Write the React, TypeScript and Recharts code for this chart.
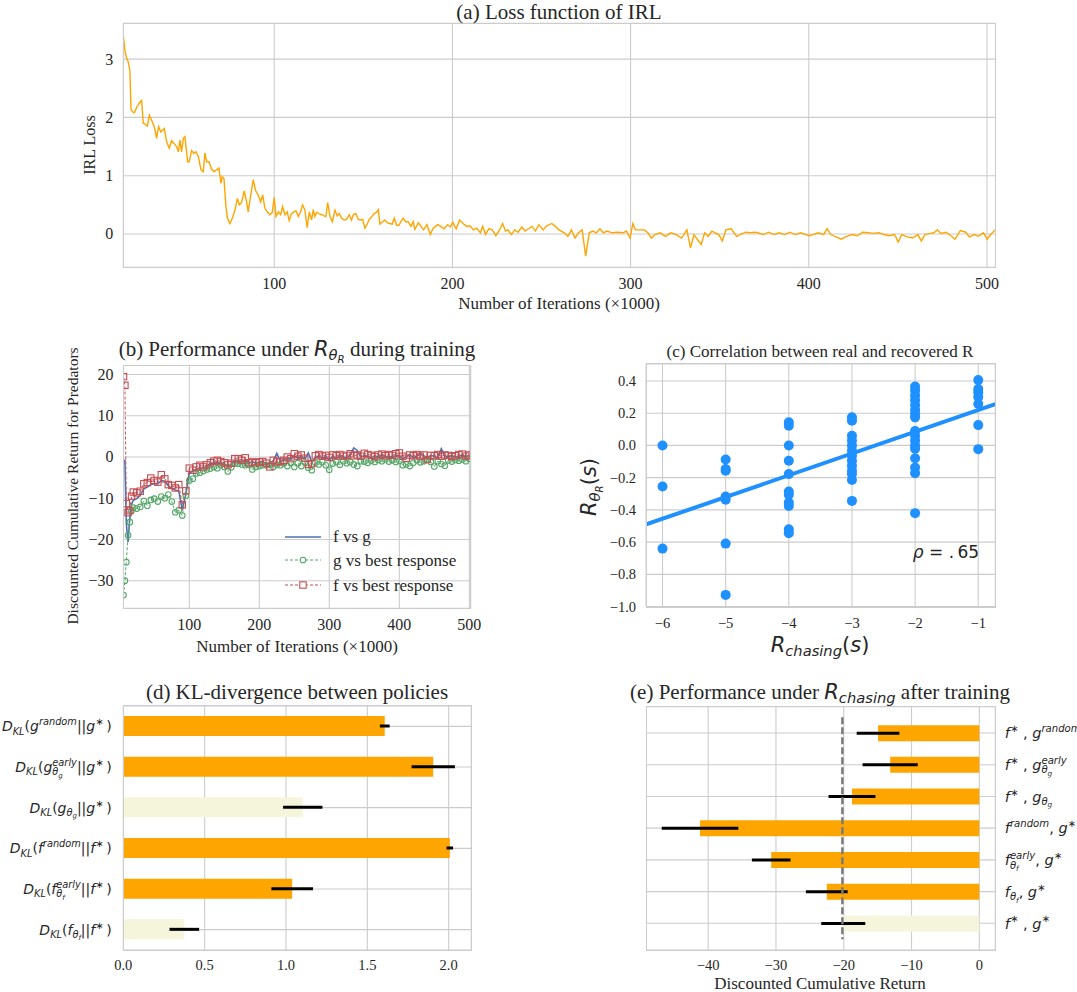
import React from "react";
import {
  Bar,
  BarChart,
  CartesianGrid,
  Cell,
  ErrorBar,
  Line,
  LineChart,
  ReferenceLine,
  Scatter,
  ScatterChart,
  XAxis,
  YAxis,
} from "recharts";

// Five-panel IRL figure: loss curve, training returns, reward correlation,
// KL divergences and final returns.

const SERIF = '"Liberation Serif", "Times New Roman", serif';
const MATH = '"DejaVu Sans", sans-serif';
const INK = "#262626";
const GRID = "#cccccc";
const ORANGE = "#ffa500";
const BEIGE = "#f5f5dc";
const BLUE = "#4c72b0";
const GREEN = "#55a868";
const RED = "#c44e52";
const DODGER = "#1e90ff";

// ---------- (a) loss function of IRL ----------
const lossIter = [
  15.3, 16.2, 17.2, 18.1, 19.0, 19.6, 20.3, 21.5, 22.8, 24.1, 25.6, 26.5, 27.4, 28.8, 29.9,
  31.2, 32.7, 34.0, 35.1, 36.4, 38.3, 39.6, 41.1, 42.4, 43.9, 45.2, 46.2, 47.1, 48.0, 49.0,
  49.9, 51.4, 52.3, 53.6, 54.9, 56.1, 57.4, 58.9, 60.2, 61.1, 62.1, 63.4, 64.9, 66.2, 67.7,
  69.0, 70.1, 70.8, 71.8, 72.9, 73.8, 75.1, 76.5, 78.0, 79.3, 80.4, 81.7, 83.2, 84.5, 85.4,
  86.4, 88.2, 89.5, 91.0, 92.4, 93.5, 94.8, 96.1, 97.6, 98.9, 100.0, 101.0, 102.3, 103.6, 104.7,
  106.0, 107.3, 108.4, 109.7, 111.1, 112.2, 113.5, 114.8, 115.9, 117.2, 118.5, 119.7, 121.0, 121.9, 122.8,
  123.8, 125.1, 126.6, 127.9, 129.0, 130.0, 131.3, 132.6, 134.1, 135.4, 136.5, 137.8, 139.3, 140.6, 142.1,
  143.4, 144.4, 145.7, 147.2, 148.5, 149.6, 150.9, 152.2, 153.3, 154.6, 156.1, 157.4, 158.4, 159.3, 160.8,
  162.1, 163.6, 164.9, 166.2, 167.4, 168.7, 170.0, 171.1, 172.4, 173.7, 175.2, 176.7, 178.0, 178.9, 180.9,
  183.8, 185.7, 187.6, 189.2, 190.5, 191.9, 193.4, 195.4, 197.3, 198.9, 200.2, 202.1, 204.1, 206.0, 208.0,
  209.9, 211.8, 213.7, 215.7, 217.0, 218.6, 220.5, 222.4, 224.4, 226.3, 228.2, 229.8, 231.1, 233.1, 235.0,
  236.9, 238.9, 240.8, 242.7, 244.7, 246.6, 248.5, 250.9, 252.9, 255.8, 257.8, 259.8, 262.8, 264.8, 266.8,
  268.8, 270.8, 272.8, 274.8, 276.8, 278.8, 280.8, 282.8, 284.7, 286.7, 289.7, 292.7, 295.7, 297.7, 299.7,
  301.3, 302.7, 304.7, 307.7, 309.7, 311.7, 313.7, 316.6, 319.6, 322.6, 325.6, 328.6, 331.6, 333.6, 335.6,
  337.6, 339.6, 341.6, 343.6, 345.6, 347.5, 349.5, 351.5, 353.5, 356.5, 359.5, 361.5, 364.5, 367.5, 369.5,
  371.5, 374.5, 377.5, 380.4, 383.4, 386.4, 389.4, 392.4, 395.4, 398.4, 400.4, 402.4, 405.4, 408.4, 410.3,
  412.3, 415.3, 418.3, 421.3, 424.3, 427.3, 430.3, 433.3, 436.3, 439.3, 442.3, 445.2, 448.2, 450.2, 452.2,
  455.2, 458.2, 461.2, 463.2, 465.2, 468.2, 470.2, 472.2, 474.1, 477.1, 480.1, 482.1, 485.1, 488.1, 490.1,
  493.1, 495.1, 498.1, 500.1, 502.1, 504.6,
];
const lossValue = [
  3.41, 3.15, 3.01, 2.95, 2.81, 2.15, 2.1, 2.08, 2.17, 2.24, 2.29, 1.9, 1.89, 1.85, 2.04,
  1.95, 1.84, 1.64, 1.84, 1.75, 1.81, 1.58, 1.47, 1.6, 1.55, 1.5, 1.41, 1.61, 1.41, 1.64,
  1.67, 1.24, 1.24, 1.43, 1.38, 1.41, 1.33, 1.1, 1.07, 1.39, 1.24, 1.24, 1.11, 1.07, 1.1,
  1.13, 0.87, 0.98, 0.95, 0.47, 0.27, 0.18, 0.27, 0.41, 0.61, 0.5, 0.54, 0.74, 0.55, 0.38,
  0.58, 0.93, 0.75, 0.67, 0.55, 0.67, 0.44, 0.38, 0.33, 0.37, 0.63, 0.3, 0.38, 0.33, 0.47,
  0.33, 0.38, 0.23, 0.35, 0.38, 0.4, 0.3, 0.38, 0.5, 0.41, 0.11, 0.38, 0.24, 0.42, 0.3,
  0.37, 0.35, 0.33, 0.31, 0.3, 0.54, 0.3, 0.21, 0.41, 0.31, 0.35, 0.27, 0.24, 0.25, 0.33,
  0.24, 0.33, 0.35, 0.25, 0.24, 0.25, 0.1, 0.17, 0.25, 0.29, 0.35, 0.37, 0.42, 0.17, 0.21,
  0.24, 0.19, 0.18, 0.17, 0.27, 0.15, 0.15, 0.21, 0.27, 0.21, 0.21, 0.13, 0.21, 0.08, 0.19,
  0.07, 0.16, -0.01, 0.1, 0.13, 0.16, 0.13, 0.09, 0.16, 0.12, 0.2, 0.09, 0.24, 0.18, 0.13,
  0.14, 0.07, 0.1, 0.02, 0.13, -0.01, 0.09, 0.07, -0.03, 0.06, 0.18, 0.05, 0.07, -0.01, 0.07,
  0.03, 0.12, 0.05, 0.09, 0.13, 0.05, 0.16, 0.07, 0.14, 0.18, 0.13, 0.07, 0.02, -0.04, 0.07,
  -0.07, 0.02, 0.07, -0.38, 0.02, 0.05, 0.02, 0.09, 0.02, 0.05, 0.02, 0.03, 0.02, 0.05, -0.07,
  0.18, 0.07, 0.07, 0.07, 0.02, -0.07, -0.01, 0.02, -0.04, 0.02, -0.01, -0.07, 0.07, -0.24, -0.01,
  -0.1, -0.18, 0.02, -0.04, 0.05, 0.02, -0.01, -0.12, 0.07, 0.09, -0.04, -0.01, 0.03, 0.02, 0.03,
  0.02, -0.01, 0.03, -0.01, 0.02, -0.01, 0.03, -0.01, 0.02, -0.01, -0.03, -0.01, 0.02, -0.01, 0.09,
  -0.01, -0.05, -0.09, -0.04, -0.01, -0.03, 0.03, 0.02, 0.01, 0.02, -0.01, -0.03, -0.01, -0.14, -0.01,
  -0.05, -0.07, -0.01, -0.12, -0.01, 0.01, 0.02, 0.07, 0.01, 0.03, -0.04, -0.09, 0.06, 0.03, -0.05,
  -0.01, -0.04, 0.02, -0.09, -0.01, 0.07,
];

// ---------- (b) performance during training ----------
const perfIter = [6, 8, 10, 12.5, 15, 17.5, ...Array.from({ length: 97 }, (_, i) => 20 + 5 * i)];
const fVsG = [
  -1, -0.8, -16, -20.6, -14.5, -11.5,
  -10.5, -10.1, -9.2, -7.7, -7.3, -6.7, -6.4, -6.5, -5.7, -5.9,
  -7.0, -7.6, -8.0, -8.3, -12.9, -9.0, -3.8, -3.5, -3.0, -2.6,
  -2.8, -2.2, -1.6, -1.4, -1.2, -1.5, -1.8, -2.3, -1.9, -0.9,
  -0.8, -1.2, -0.6, -1.6, -1.0, -1.6, -1.3, -1.0, -1.8, -1.5,
  -0.9, 0.9, -1.0, -0.6, -0.3, -0.6, 0.3,
  -0.3, 0.2, -0.6, 1.0, -1.2, -0.2, 0.3, -0.4, 0.1, -0.8,
  0.2, -0.3, 0.4, 0.0, -0.2, 0.6, 2.2, 1.6, -0.1, 0.4,
  0.1, -0.2, 0.3, 0.0, 0.5, -0.1, 0.2, 0.0, 0.4, 0.3,
  -0.4, 0.1, 0.6, -0.2, 0.2, 1.0, 0.0, -0.3, 0.4, 0.1,
  -0.2, 2.0, 0.3, 0.0, 0.4, -0.1, 0.2, 0.5, 0.0, 0.3,
];
const gVsBest = [
  -33.5, -30, -25.5, -19, -15.8, -13,
  -12.3, -12.5, -12.1, -10.7, -11.8, -10.4, -10.1, -10.8, -9.6, -10.0,
  -9.1, -10.8, -13.4, -12.9, -14.2, -9.4, -5.7, -5.3, -4.0, -3.8,
  -3.4, -3.0, -2.8, -2.4, -2.7, -2.0, -2.4, -3.5, -2.5, -1.6,
  -1.6, -1.8, -2.0, -1.9, -3.0, -2.4, -2.2, -2.0, -2.0, -1.9,
  -2.4, -1.9, -2.0, -1.6, -2.2, -1.4, -2.4,
  -1.5, -2.2, -1.3, -2.6, -3.2, -1.4, -1.8, -1.2, -2.0, -3.1,
  -1.6, -1.2, -1.9, -1.0, -1.5, -1.2, -1.8, -2.2, -1.0, -1.1,
  -1.4, -0.9, -1.2, -0.7, -1.0, -0.6, -1.1, -0.8, -1.2, -0.9,
  -2.0, -1.8, -2.2, -1.4, -0.8, -1.3, -1.0, -0.6, -1.2, -2.3,
  -1.0, -1.7, -2.1, -0.8, -1.1, -0.7, -0.9, -0.6, -1.0, -0.4,
];
const fVsBest = [
  19.5, 17.4, -11.3, -13.5, -13.0, -9.5,
  -8.5, -8.7, -8.3, -6.5, -6.2, -5.1, -5.7, -6.1, -4.3, -5.3,
  -6.7, -6.9, -7.5, -6.7, -11.6, -8.2, -2.7, -3.2, -2.4, -2.0,
  -2.4, -1.9, -1.4, -1.0, -0.8, -1.1, -1.4, -1.9, -1.5, -0.4,
  -0.4, -0.8, -0.2, -1.4, -1.2, -1.4, -1.2, -1.1, -1.5, -2.4,
  -0.8, -1.2, -1.1, -0.8, 0.0, -0.4, 0.8,
  0.2, 0.5, -0.3, -1.8, -1.6, 0.3, 0.6, 0.2, 0.4, -0.1,
  0.5, 0.3, 0.6, 0.2, 0.4, 0.8, 0.3, 0.5, 0.2, 0.9,
  0.6, 0.4, 0.1, 0.5, 0.7, 0.3, 0.6, 0.4, 0.8, 1.0,
  0.2, -0.3, 0.5, 0.3, 0.6, 0.2, 0.5, -0.6, 0.4, 0.3,
  0.6, 0.2, 0.5, 0.4, 0.1, 0.3, 0.6, 0.7, 0.2, 0.5,
];
const perfLegend = ["f vs g", "g vs best response", "f vs best response"];

// ---------- (c) real vs recovered reward ----------
const chasingReward = [-6, -5, -4, -3, -2, -1];
const recoveredReward = [
  [0.0, -0.255, -0.64],
  [-0.087, -0.147, -0.157, -0.317, -0.337, -0.609, -0.927],
  [0.143, 0.122, 0.0, -0.095, -0.178, -0.286, -0.306, -0.354, -0.375, -0.52, -0.544],
  [0.174, 0.153, 0.06, 0.03, 0.0, -0.033, -0.064, -0.095, -0.126, -0.158, -0.178, -0.215, -0.344],
  [0.365, 0.34, 0.31, 0.28, 0.25, 0.22, 0.195, 0.174, 0.09, 0.06, 0.03, 0.0, -0.02, -0.08, -0.137, -0.172, -0.42],
  [0.405, 0.35, 0.33, 0.3, 0.257, 0.126, -0.023],
];
const fitX = [-6.26, -0.73];
const fitY = [-0.49, 0.256];

// ---------- (d) KL divergence between policies ----------
const klNames = ["DKL(g_random||g*)", "DKL(g_early||g*)", "DKL(g_θg||g*)", "DKL(f_random||f*)", "DKL(f_early||f*)", "DKL(f_θf||f*)"];
const klMean = [1.607, 1.905, 1.103, 2.007, 1.038, 0.375];
const klErr = [0.03, 0.133, 0.121, 0.02, 0.128, 0.091];
const klLearned = [false, false, true, false, false, true];

// ---------- (e) performance after training ----------
const retNames = ["f*, g_random", "f*, g_early", "f*, g_θg", "f_random, g*", "f_early, g*", "f_θf, g*", "f*, g*"];
const retMean = [-14.94, -13.15, -18.78, -41.2, -30.7, -22.5, -20.07];
const retErr = [3.15, 4.07, 3.46, 5.65, 2.85, 3.08, 3.25];
const retExpert = [false, false, false, false, false, false, true];
const expertReturn = -20.2;

// ---------- mathtext-like tick labels ----------
type Part = { t: string; lvl: number; stack?: boolean; up?: boolean };
const P = (t: string, lvl = 0, opt: { stack?: boolean; up?: boolean } = {}): Part => ({ t, lvl, ...opt });
const UP = { up: true };
const DKL = [P("D"), P("KL", -1)];
const CLOSE = P("\u2009)", 0, UP);

const klParts: Part[][] = [
  [...DKL, P("(", 0, UP), P("g"), P("random", 1), P("||", 0, UP), P("g"), P("∗", 1, UP), CLOSE],
  [...DKL, P("(", 0, UP), P("g"), P("early", 1), P("θ", -1, { stack: true }), P("g", -2), P("||", 0, UP), P("g"), P("∗", 1, UP), CLOSE],
  [...DKL, P("(", 0, UP), P("g"), P("θ", -1), P("g", -2), P("||", 0, UP), P("g"), P("∗", 1, UP), CLOSE],
  [...DKL, P("(", 0, UP), P("f"), P("random", 1), P("||", 0, UP), P("f"), P("∗", 1, UP), CLOSE],
  [...DKL, P("(", 0, UP), P("f"), P("early", 1), P("θ", -1, { stack: true }), P("f", -2), P("||", 0, UP), P("f"), P("∗", 1, UP), CLOSE],
  [...DKL, P("(", 0, UP), P("f"), P("θ", -1), P("f", -2), P("||", 0, UP), P("f"), P("∗", 1, UP), CLOSE],
];
const retParts: Part[][] = [
  [P("f"), P("∗", 1, UP), P(" , ", 0, UP), P("g"), P("random", 1)],
  [P("f"), P("∗", 1, UP), P(" , ", 0, UP), P("g"), P("early", 1), P("θ", -1, { stack: true }), P("g", -2)],
  [P("f"), P("∗", 1, UP), P(" , ", 0, UP), P("g"), P("θ", -1), P("g", -2)],
  [P("f"), P("random", 1), P(", ", 0, UP), P("g"), P("∗", 1, UP)],
  [P("f"), P("early", 1), P("θ", -1, { stack: true }), P("f", -2), P(", ", 0, UP), P("g"), P("∗", 1, UP)],
  [P("f"), P("θ", -1), P("f", -2), P(", ", 0, UP), P("g"), P("∗", 1, UP)],
  [P("f"), P("∗", 1, UP), P(" , ", 0, UP), P("g"), P("∗", 1, UP)],
];

const LEVEL_SIZE: Record<number, number> = { 0: 1, 1: 0.7, [-1]: 0.7, [-2]: 0.5 };
const LEVEL_SHIFT: Record<number, number> = { 0: 0, 1: -0.42, [-1]: 0.24, [-2]: 0.4 };

let measureCtx: CanvasRenderingContext2D | null = null;
function textWidth(t: string, size: number, italic: boolean) {
  if (!measureCtx) measureCtx = document.createElement("canvas").getContext("2d");
  if (!measureCtx) return t.length * size * 0.6;
  measureCtx.font = `${italic ? "italic " : ""}${size}px "DejaVu Sans"`;
  return measureCtx.measureText(t).width;
}

function layoutMath(parts: Part[], fs: number) {
  let x = 0;
  let supStart = 0;
  let supEnd = 0;
  let width = 0;
  const items: (Part & { x: number; size: number; dy: number })[] = [];
  for (const p of parts) {
    const size = fs * LEVEL_SIZE[p.lvl];
    if (p.stack) x = supStart;
    if (p.lvl === 0) x = Math.max(x, supEnd);
    if (p.lvl === 1) supStart = x;
    items.push({ ...p, x, size, dy: fs * LEVEL_SHIFT[p.lvl] });
    x += textWidth(p.t, size, !p.up);
    if (p.lvl === 1) supEnd = x;
    width = Math.max(width, x);
  }
  return { items, width };
}

function MathTick(props: any) {
  const { x, y, payload, names, parts, fs, anchor } = props;
  const idx = names.indexOf(payload.value);
  if (idx < 0) return null;
  const lay = layoutMath(parts[idx], fs);
  const x0 = anchor === "end" ? x - lay.width : x;
  return (
    <text fill={INK} style={{ fontFamily: MATH }}>
      {lay.items.map((it, i) => (
        <tspan key={i} x={x0 + it.x} y={y + 0.36 * fs + it.dy} fontSize={it.size} fontStyle={it.up ? "normal" : "italic"}>
          {it.t}
        </tspan>
      ))}
    </text>
  );
}

// serif numeric tick; side tells where the label sits relative to the axis
function NumTick(props: any) {
  const { x, y, payload, fs, side, fmt } = props;
  const label = fmt ? fmt(payload.value) : String(payload.value);
  const dy = side === "bottom" ? 0.71 * fs : 0.34 * fs;
  return (
    <text x={x} y={y + dy} textAnchor={side === "bottom" ? "middle" : "end"} fill={INK} fontSize={fs} style={{ fontFamily: SERIF }}>
      {label}
    </text>
  );
}

// ---------- layout helpers ----------
type Rect = { l: number; t: number; r: number; b: number };
type Box = { x: number; y: number; w: number; h: number };

const plotA: Rect = { l: 123.3, t: 23.3, r: 995.5, b: 267.3 };
const plotB: Rect = { l: 123.5, t: 365.5, r: 470.7, b: 608.3 };
const plotC: Rect = { l: 646.1, t: 364, r: 995.3, b: 607.3 };
const plotD: Rect = { l: 123.3, t: 706, r: 471.3, b: 950 };
const plotE: Rect = { l: 646.5, t: 706.7, r: 995.3, b: 950 };

const boxA: Box = { x: 0, y: 0, w: 1077, h: 320 };
const boxB: Box = { x: 0, y: 330, w: 520, h: 320 };
const boxC: Box = { x: 520, y: 330, w: 557, h: 330 };
const boxD: Box = { x: 0, y: 670, w: 520, h: 322 };
const boxE: Box = { x: 520, y: 670, w: 557, h: 322 };

function marginsFor(box: Box, plot: Rect, yw: number, xh: number, yRight = false) {
  return {
    top: plot.t - box.y,
    left: plot.l - box.x - (yRight ? 0 : yw),
    right: box.x + box.w - plot.r - (yRight ? yw : 0),
    bottom: box.y + box.h - plot.b - xh,
  };
}

const minus = (s: string) => s.replace("-", "\u2212");
const fmtInt = (v: number) => minus(String(v));
const fmt1 = (v: number) => minus(v.toFixed(1));

function Frame({ p }: { p: Rect }) {
  return (
    <div
      style={{
        position: "absolute",
        left: p.l - 0.6,
        top: p.t - 0.6,
        width: p.r - p.l + 1.2,
        height: p.b - p.t + 1.2,
        border: `1.2px solid ${GRID}`,
        boxSizing: "border-box",
        pointerEvents: "none",
      }}
    />
  );
}

function Txt(props: { x: number; y: number; size: number; rotate?: boolean; family?: string; children: React.ReactNode }) {
  const { x, y, size, rotate, family = SERIF, children } = props;
  return (
    <div
      style={{
        position: "absolute",
        left: x,
        top: y,
        transform: `translate(-50%, -50%)${rotate ? " rotate(-90deg)" : ""}`,
        fontFamily: family,
        fontSize: size,
        lineHeight: 1,
        whiteSpace: "nowrap",
        color: INK,
      }}
    >
      {children}
    </div>
  );
}

const subStyle: React.CSSProperties = { fontSize: "0.7em", verticalAlign: "-0.3em", lineHeight: 0 };
const mathStyle: React.CSSProperties = { fontFamily: MATH, fontStyle: "italic" };

const Place = ({ box, children }: { box: Box; children: React.ReactNode }) => (
  <div style={{ position: "absolute", left: box.x, top: box.y, width: box.w, height: box.h }}>{children}</div>
);

const axisCommon = { axisLine: false, tickLine: false, tickSize: 0, tickMargin: 10, allowDataOverflow: true };
const xTick = (fs: number, fmt?: (v: number) => string) => (p: any) => <NumTick {...p} fs={fs} side="bottom" fmt={fmt} />;
const yTick = (fs: number, fmt?: (v: number) => string) => (p: any) => <NumTick {...p} fs={fs} side="left" fmt={fmt} />;

export default function App() {
  const lossData = lossIter.map((x, i) => ({ x, loss: lossValue[i] }));
  const perfData = perfIter.map((x, i) => ({ x, fg: fVsG[i], gb: gVsBest[i], fb: fVsBest[i] }));
  const corrPoints = chasingReward.flatMap((x, i) => recoveredReward[i].map((y) => ({ x, y })));
  const klData = klNames.map((name, i) => ({ name, kl: klMean[i], err: klErr[i] }));
  const retData = retNames.map((name, i) => ({ name, ret: retMean[i], err: retErr[i] }));

  const padTop = 10.45;
  const padBottom = 10.85;

  return (
    <div style={{ position: "absolute", left: 0, top: 0, width: 1077, height: 992, background: "#fff", overflow: "hidden" }}>
      {/* (a) */}
      <Place box={boxA}>
        <LineChart width={boxA.w} height={boxA.h} data={lossData} margin={marginsFor(boxA, plotA, 60, 30)}>
          <CartesianGrid stroke={GRID} strokeWidth={1.1} />
          <XAxis dataKey="x" type="number" domain={[15.3, 504.8]} ticks={[100, 200, 300, 400, 500]} height={30} tick={xTick(16)} {...axisCommon} />
          <YAxis type="number" domain={[-0.572, 3.615]} ticks={[0, 1, 2, 3]} width={60} tick={yTick(16)} {...axisCommon} />
          <Line dataKey="loss" stroke={ORANGE} strokeWidth={1.4} dot={false} activeDot={false} isAnimationActive={false} />
        </LineChart>
      </Place>

      {/* (b) */}
      <Place box={boxB}>
        <LineChart width={boxB.w} height={boxB.h} data={perfData} margin={marginsFor(boxB, plotB, 60, 25)}>
          <CartesianGrid stroke={GRID} strokeWidth={1.1} />
          <XAxis dataKey="x" type="number" domain={[6, 502]} ticks={[100, 200, 300, 400, 500]} height={25} tick={xTick(16)} {...axisCommon} />
          <YAxis type="number" domain={[-36.7, 22.2]} ticks={[-30, -20, -10, 0, 10, 20]} width={60} tick={yTick(16, fmtInt)} {...axisCommon} />
          <Line dataKey="fg" stroke={BLUE} strokeWidth={1.6} dot={false} activeDot={false} isAnimationActive={false} />
          <Line
            dataKey="gb"
            stroke={GREEN}
            strokeWidth={1}
            strokeDasharray="3 2"
            activeDot={false}
            isAnimationActive={false}
            dot={(p: any) => <circle key={`g${p.index}`} cx={p.cx} cy={p.cy} r={2.8} fill="none" stroke={GREEN} strokeWidth={1.1} />}
          />
          <Line
            dataKey="fb"
            stroke={RED}
            strokeWidth={1}
            strokeDasharray="3 2"
            activeDot={false}
            isAnimationActive={false}
            dot={(p: any) => <rect key={`r${p.index}`} x={p.cx - 3.2} y={p.cy - 3.2} width={6.4} height={6.4} fill="none" stroke={RED} strokeWidth={1.1} />}
          />
        </LineChart>
      </Place>

      {/* (c) */}
      <Place box={boxC}>
        <ScatterChart width={boxC.w} height={boxC.h} margin={marginsFor(boxC, plotC, 60, 30)}>
          <CartesianGrid stroke={GRID} strokeWidth={1.1} />
          <XAxis dataKey="x" type="number" domain={[-6.26, -0.73]} ticks={chasingReward} height={30} tick={xTick(14.5, fmtInt)} {...axisCommon} />
          <YAxis dataKey="y" type="number" domain={[-1.004, 0.505]} ticks={[-1, -0.8, -0.6, -0.4, -0.2, 0, 0.2, 0.4]} width={60} tick={yTick(14.5, fmt1)} {...axisCommon} />
          <Scatter
            data={corrPoints}
            fill={DODGER}
            isAnimationActive={false}
            shape={(p: any) => <circle cx={p.cx} cy={p.cy} r={5} fill={DODGER} />}
          />
          <ReferenceLine
            segment={[
              { x: fitX[0], y: fitY[0] },
              { x: fitX[1], y: fitY[1] },
            ]}
            stroke={DODGER}
            strokeWidth={4}
            ifOverflow="hidden"
          />
        </ScatterChart>
      </Place>

      {/* (d) */}
      <Place box={boxD}>
        <BarChart layout="vertical" width={boxD.w} height={boxD.h} data={klData} margin={marginsFor(boxD, plotD, 115, 30)}>
          <CartesianGrid stroke={GRID} strokeWidth={1.1} />
          <XAxis type="number" domain={[0, 2.139]} ticks={[0, 0.5, 1, 1.5, 2]} height={30} tick={xTick(14.5, fmt1)} {...axisCommon} />
          <YAxis
            type="category"
            dataKey="name"
            width={115}
            interval={0}
            axisLine={false}
            tickLine={false}
            tickSize={0}
            tickMargin={11.6}
            tick={(p: any) => <MathTick {...p} names={klNames} parts={klParts} fs={14} anchor="end" />}
          />
          <Bar dataKey="kl" barSize={20} isAnimationActive={false}>
            {klData.map((d, i) => (
              <Cell key={d.name} fill={klLearned[i] ? BEIGE : ORANGE} />
            ))}
            <ErrorBar dataKey="err" direction="x" width={0} strokeWidth={3} stroke="#000" />
          </Bar>
        </BarChart>
      </Place>

      {/* (e) */}
      <Place box={boxE}>
        <BarChart layout="vertical" width={boxE.w} height={boxE.h} data={retData} margin={marginsFor(boxE, plotE, 80, 30, true)}>
          <CartesianGrid stroke={GRID} strokeWidth={1.1} />
          <XAxis type="number" domain={[-49.1, 2.36]} ticks={[-40, -30, -20, -10, 0]} height={30} tick={xTick(14.5, fmtInt)} {...axisCommon} />
          <YAxis
            type="category"
            dataKey="name"
            orientation="right"
            width={80}
            interval={0}
            padding={{ top: padTop, bottom: padBottom }}
            axisLine={false}
            tickLine={false}
            tickSize={0}
            tickMargin={9.5}
            tick={(p: any) => <MathTick {...p} names={retNames} parts={retParts} fs={14.5} anchor="start" />}
          />
          <Bar dataKey="ret" barSize={16} isAnimationActive={false}>
            {retData.map((d, i) => (
              <Cell key={d.name} fill={retExpert[i] ? BEIGE : ORANGE} />
            ))}
            <ErrorBar dataKey="err" direction="x" width={0} strokeWidth={3} stroke="#000" />
          </Bar>
          <ReferenceLine
            x={expertReturn}
            stroke="#7a7a7a"
            strokeWidth={2.5}
            strokeDasharray="7 3"
            ifOverflow="visible"
            shape={(p: any) => {
              const top = Math.min(p.y1, p.y2) + padTop;
              const bottom = Math.max(p.y1, p.y2) - padBottom;
              return <line x1={p.x1} x2={p.x2} y1={top} y2={bottom} stroke="#7a7a7a" strokeWidth={2.5} strokeDasharray="7 3" />;
            }}
          />
        </BarChart>
      </Place>

      {[plotA, plotB, plotC, plotD, plotE].map((p, i) => (
        <Frame key={i} p={p} />
      ))}

      {/* titles and axis labels */}
      <Txt x={559} y={11.5} size={21}>(a) Loss function of IRL</Txt>
      <Txt x={559} y={303} size={17}>Number of Iterations (×1000)</Txt>
      <Txt x={90} y={145} size={16} rotate>IRL Loss</Txt>

      <Txt x={297} y={349} size={21}>
        (b) Performance under{" "}
        <span style={mathStyle}>
          R
          <span style={subStyle}>
            θ<span style={subStyle}>R</span>
          </span>
        </span>{" "}
        during training
      </Txt>
      <Txt x={297} y={646} size={17}>Number of Iterations (×1000)</Txt>
      <Txt x={73} y={486} size={15.5} rotate>Discounted Cumulative Return for Predators</Txt>

      <Txt x={820} y={351} size={17}>(c) Correlation between real and recovered R</Txt>
      <Txt x={820} y={645} size={21} family={MATH}>
        <i>R</i>
        <span style={{ ...subStyle, fontStyle: "italic" }}>chasing</span>(<i>s</i>)
      </Txt>
      <Txt x={589} y={487} size={21} rotate family={MATH}>
        <i>R</i>
        <span style={{ ...subStyle, fontStyle: "italic" }}>
          θ<span style={subStyle}>R</span>
        </span>
        (<i>s</i>)
      </Txt>
      <Txt x={946} y={552} size={17} family={MATH}>
        <i>ρ</i> = .{"\u2009"}65
      </Txt>

      <Txt x={297} y={692} size={21}>(d) KL-divergence between policies</Txt>

      <Txt x={820} y={692} size={21}>
        (e) Performance under{" "}
        <span style={mathStyle}>
          R<span style={subStyle}>chasing</span>
        </span>{" "}
        after training
      </Txt>
      <Txt x={820} y={982.5} size={17}>Discounted Cumulative Return</Txt>

      {/* legend of (b) */}
      {perfLegend.map((label, i) => {
        const cy = [536.7, 560, 585][i];
        const color = [BLUE, GREEN, RED][i];
        return (
          <div key={label} style={{ position: "absolute", left: 284, top: cy - 8, height: 16, display: "flex", alignItems: "center" }}>
            <svg width={38} height={16} style={{ display: "block" }}>
              <line x1={1} x2={37} y1={8} y2={8} stroke={color} strokeWidth={i === 0 ? 1.6 : 1} strokeDasharray={i === 0 ? undefined : "3 2"} />
              {i === 1 && <circle cx={19} cy={8} r={2.8} fill="#fff" stroke={color} strokeWidth={1.1} />}
              {i === 2 && <rect x={15.8} y={4.8} width={6.4} height={6.4} fill="#fff" stroke={color} strokeWidth={1.1} />}
            </svg>
            <span style={{ marginLeft: 11, fontFamily: SERIF, fontSize: 17, color: INK, whiteSpace: "nowrap", lineHeight: 1 }}>{label}</span>
          </div>
        );
      })}
    </div>
  );
}
